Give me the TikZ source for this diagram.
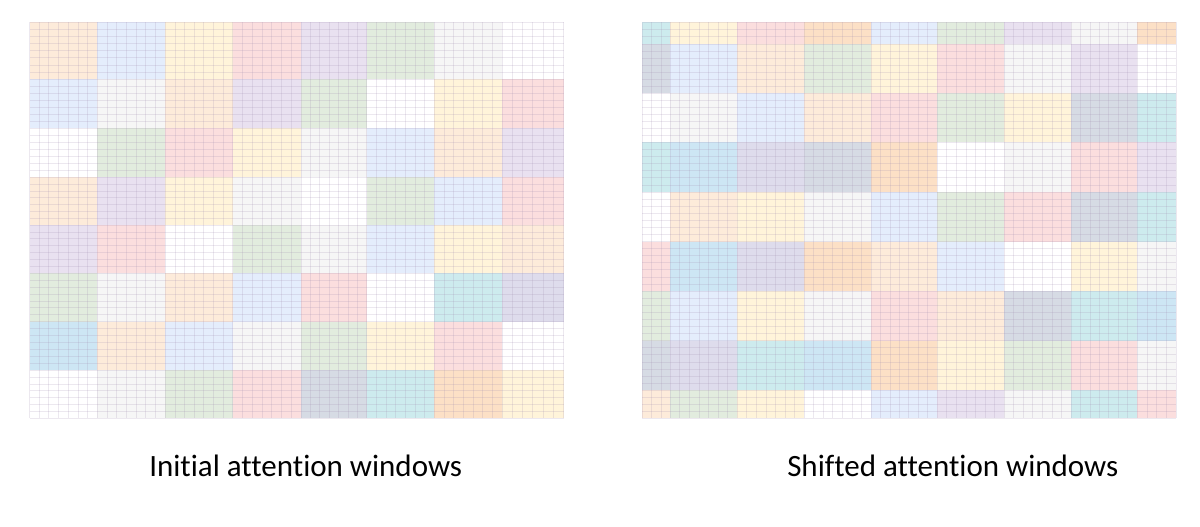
\documentclass[tikz,border=0pt]{standalone}
\usepackage{fontspec}
\setmainfont[Ligatures=CommonOff]{Carlito}
\definecolor{pe}{RGB}{253,235,218}
\definecolor{bl}{RGB}{228,237,252}
\definecolor{ye}{RGB}{255,244,218}
\definecolor{pk}{RGB}{251,222,222}
\definecolor{pu}{RGB}{233,225,240}
\definecolor{gr}{RGB}{226,236,222}
\definecolor{gy}{RGB}{246,246,246}
\definecolor{wh}{RGB}{255,255,255}
\definecolor{te}{RGB}{205,235,238}
\definecolor{sk}{RGB}{205,230,244}
\definecolor{la}{RGB}{222,220,236}
\definecolor{sl}{RGB}{214,219,228}
\definecolor{or}{RGB}{252,224,198}
\definecolor{fineline}{RGB}{160,140,175}
\tikzset{
  fine/.style={draw=fineline, draw opacity=0.2, line width=0.8pt},
  caption/.style={font=\fontsize{31}{36}\selectfont, text=black, inner sep=0pt, anchor=base}
}
\def\LX{{29.5,97.3,165.3,232.7,301,366.7,434.3,502,563.5}}
\def\LY{{22,79.3,128.3,177.3,225,273.3,321.7,370.3,418}}
\def\RX{{642.3,670.3,737.3,804.3,871,937.3,1004.3,1071,1137.3,1176}}
\def\RY{{22,44,93.3,142.3,192,241.7,291,340.7,390.3,418}}
\begin{document}
\begin{tikzpicture}[x=1pt,y=-1pt]
\useasboundingbox (0,0) rectangle (1200,527);
% ---------- left grid: initial windows ----------
\foreach \row [count=\r from 0] in {
  {pe,bl,ye,pk,pu,gr,gy,wh},
  {bl,gy,pe,pu,gr,wh,ye,pk},
  {wh,gr,pk,ye,gy,bl,pe,pu},
  {pe,pu,ye,gy,wh,gr,bl,pk},
  {pu,pk,wh,gr,gy,bl,ye,pe},
  {gr,gy,pe,bl,pk,wh,te,la},
  {sk,pe,bl,gy,gr,ye,pk,wh},
  {wh,gy,gr,pk,sl,te,or,ye}}{
  \foreach \col [count=\c from 0] in \row {
    \pgfmathsetmacro\xa{\LX[\c]}
    \pgfmathsetmacro\xb{\LX[\c+1]}
    \pgfmathsetmacro\ya{\LY[\r]}
    \pgfmathsetmacro\yb{\LY[\r+1]}
    \fill[\col] (\xa,\ya) rectangle (\xb,\yb);
  }
}
\foreach \i/\n in {0/7,1/7,2/7,3/7,4/7,5/7,6/7,7/6}{
  \pgfmathsetmacro\xa{\LX[\i]}
  \pgfmathsetmacro\xb{\LX[\i+1]}
  \foreach \k in {1,...,\n}{
    \draw[fine] ({\xa+(\xb-\xa)*\k/\n},22) -- ({\xa+(\xb-\xa)*\k/\n},418);
  }
}
\foreach \i/\n in {0/8,1/7,2/7,3/7,4/7,5/7,6/7,7/7}{
  \pgfmathsetmacro\ya{\LY[\i]}
  \pgfmathsetmacro\yb{\LY[\i+1]}
  \foreach \k in {1,...,\n}{
    \draw[fine] (29.5,{\ya+(\yb-\ya)*\k/\n}) -- (563.5,{\ya+(\yb-\ya)*\k/\n});
  }
}
\draw[fine] (29.5,418) -- (29.5,22) -- (563.5,22);
% ---------- right grid: shifted windows ----------
\foreach \row [count=\r from 0] in {
  {te,ye,pk,or,bl,gr,pu,gy,or},
  {sl,bl,pe,gr,ye,pk,gy,pu,wh},
  {wh,gy,bl,pe,pk,gr,ye,sl,te},
  {te,sk,la,sl,or,wh,gy,pk,pu},
  {wh,pe,ye,gy,bl,gr,pk,sl,te},
  {pk,sk,la,or,pe,bl,wh,ye,gy},
  {gr,bl,ye,gy,pk,pe,sl,te,sk},
  {sl,la,te,sk,or,ye,gr,pk,gy},
  {pe,gr,ye,wh,bl,pu,gy,te,pk}}{
  \foreach \col [count=\c from 0] in \row {
    \pgfmathsetmacro\xa{\RX[\c]}
    \pgfmathsetmacro\xb{\RX[\c+1]}
    \pgfmathsetmacro\ya{\RY[\r]}
    \pgfmathsetmacro\yb{\RY[\r+1]}
    \fill[\col] (\xa,\ya) rectangle (\xb,\yb);
  }
}
\foreach \i/\n in {0/3,1/7,2/7,3/7,4/7,5/7,6/7,7/7,8/4}{
  \pgfmathsetmacro\xa{\RX[\i]}
  \pgfmathsetmacro\xb{\RX[\i+1]}
  \foreach \k in {1,...,\n}{
    \draw[fine] ({\xa+(\xb-\xa)*\k/\n},22) -- ({\xa+(\xb-\xa)*\k/\n},418);
  }
}
\foreach \i/\n in {0/3,1/7,2/7,3/7,4/7,5/7,6/7,7/7,8/4}{
  \pgfmathsetmacro\ya{\RY[\i]}
  \pgfmathsetmacro\yb{\RY[\i+1]}
  \foreach \k in {1,...,\n}{
    \draw[fine] (642.3,{\ya+(\yb-\ya)*\k/\n}) -- (1176,{\ya+(\yb-\ya)*\k/\n});
  }
}
\draw[fine] (642.3,418) -- (642.3,22) -- (1176,22);
% ---------- captions ----------
\node[caption] (initlabel) at (305.7,476) {Initial attention windows};
\node[caption] (shiftlabel) at (952.8,476) {Shifted attention windows};
\end{tikzpicture}
\end{document}
